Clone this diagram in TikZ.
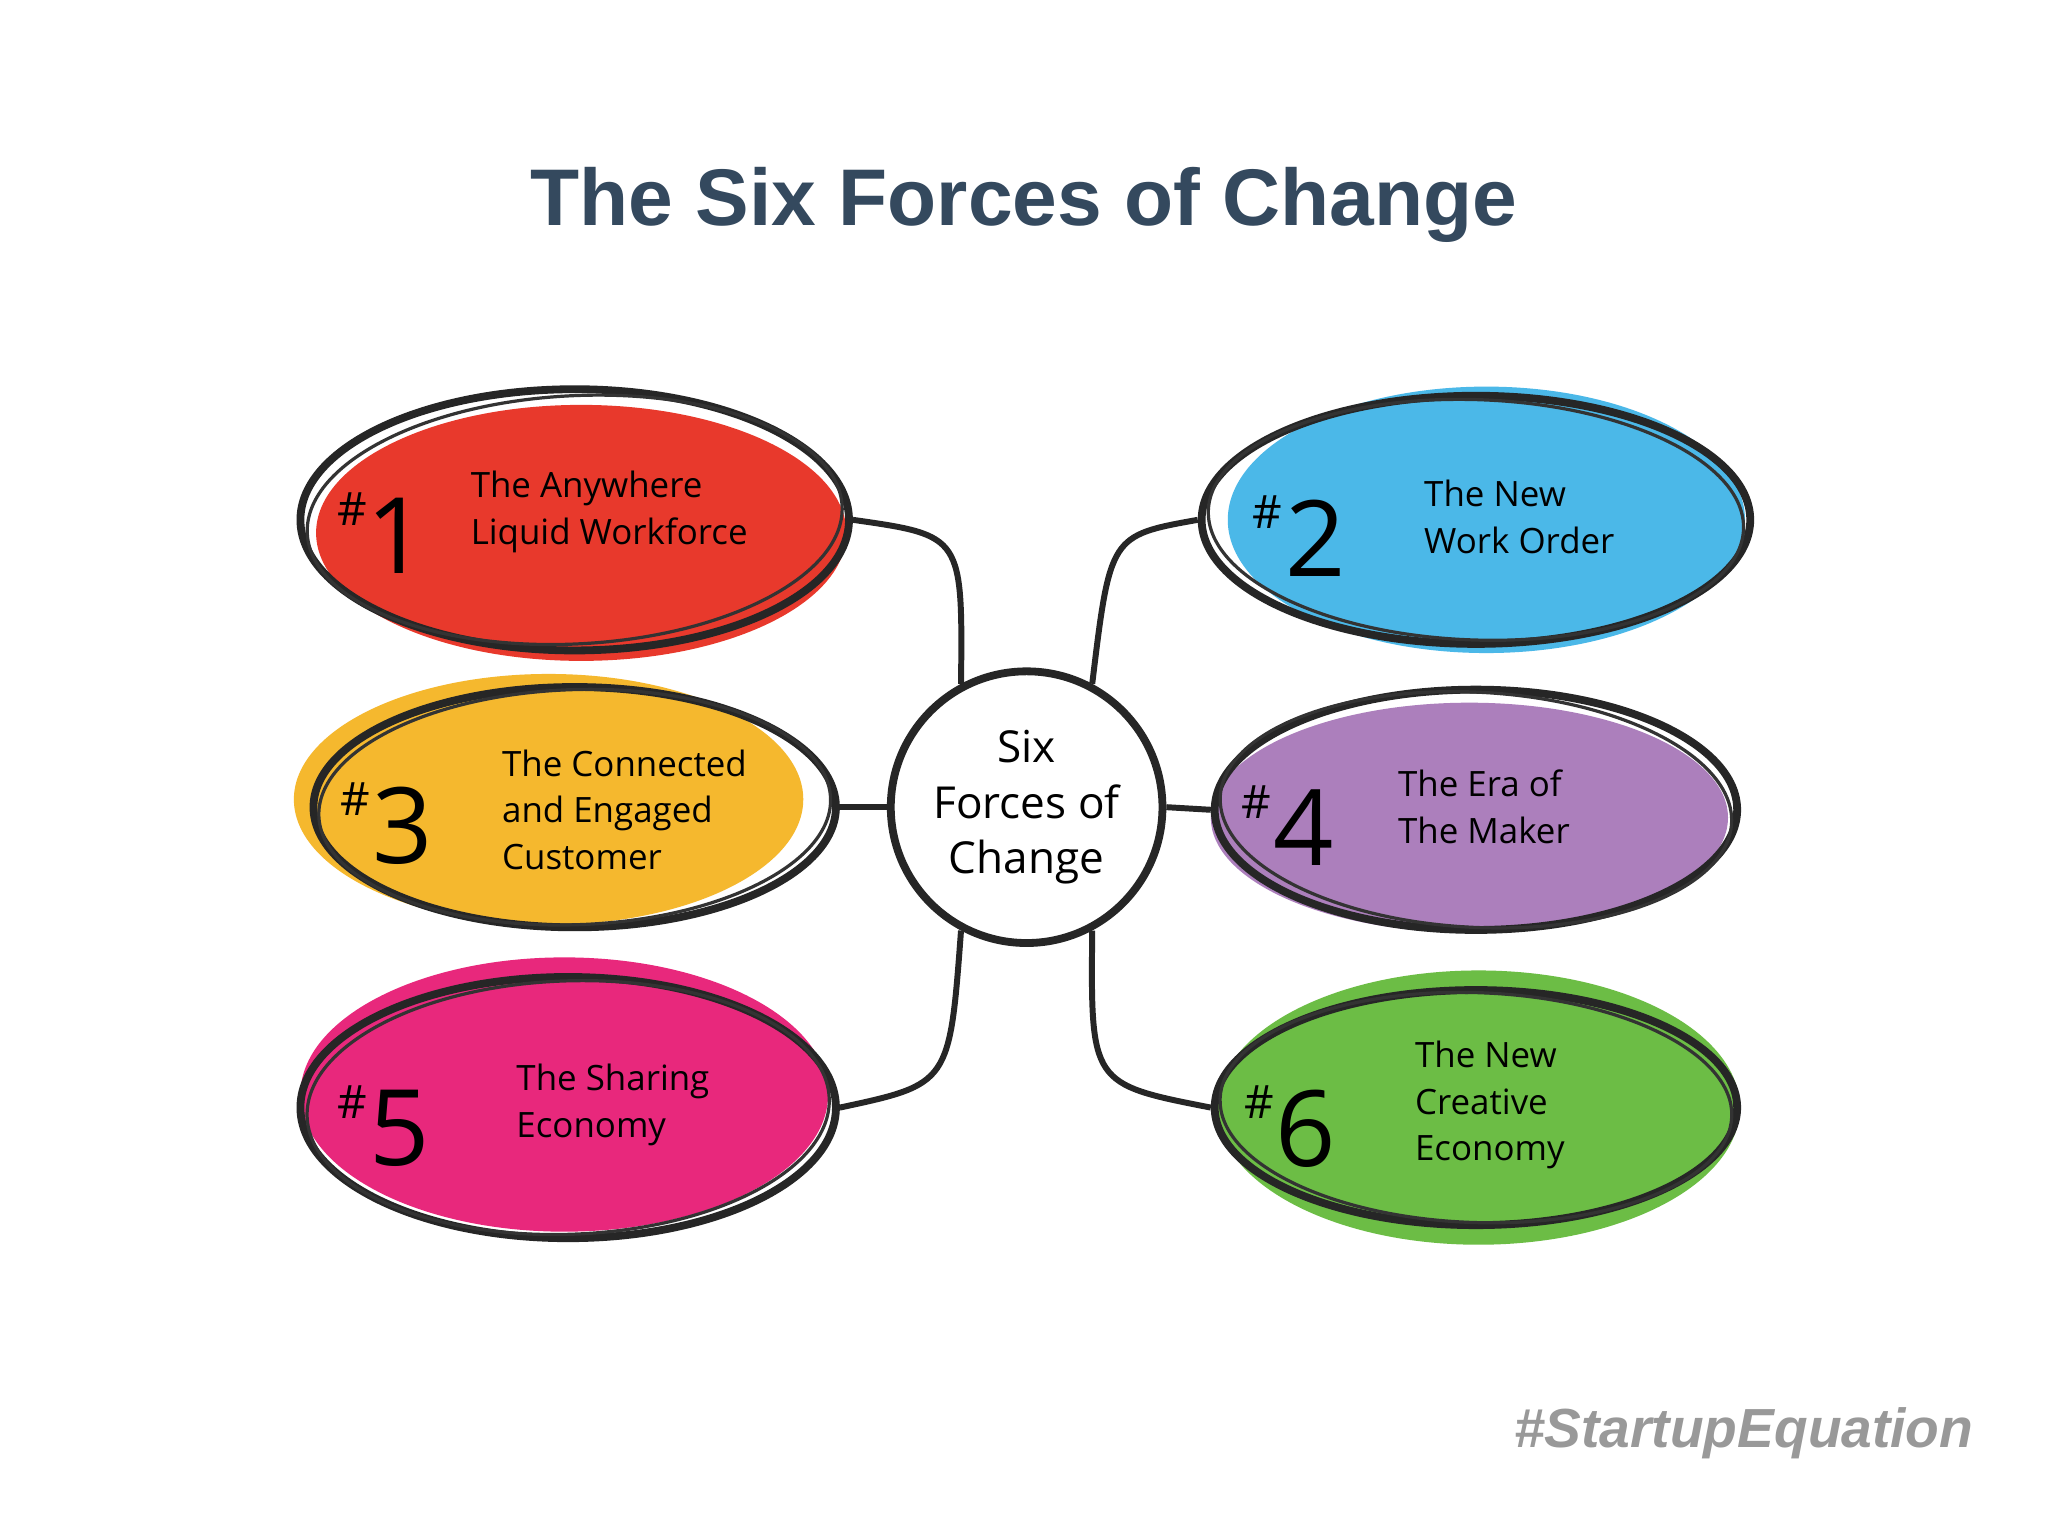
\documentclass[tikz,border=0pt]{standalone}
\usepackage{fontspec}
\setmainfont{Open Sans}
\newfontfamily\titlefont{Liberation Sans}
\usetikzlibrary{shapes.geometric}
\definecolor{cred}{HTML}{E8392C}
\definecolor{cblue}{HTML}{4BB8E8}
\definecolor{cyel}{HTML}{F5B82E}
\definecolor{cpur}{HTML}{AC7FBC}
\definecolor{cpink}{HTML}{E8287C}
\definecolor{cgreen}{HTML}{6CBD45}
\definecolor{ctitle}{HTML}{34495E}
\begin{document}
\begin{tikzpicture}[
  ring/.style={ellipse, draw=black!85, line width=1.7pt, inner sep=0pt},
  ring2/.style={draw=black!80, line width=0.7pt},
  conn/.style={draw=black!85, line width=1.3pt},
  lab/.style={align=left, font=\fontsize{7.6}{10.2}\selectfont, anchor=west},
  num/.style={font=\fontsize{23}{23}\selectfont},
  hash/.style={font=\fontsize{10}{10}\selectfont}
]
\useasboundingbox[fill=white] (0,0) rectangle (15.68,-11.76);
\node[font=\titlefont\bfseries\fontsize{17.5}{20}\selectfont, text=ctitle] (title) at (7.84,-1.57) {The Six Forces of Change};
% blobs
\fill[cred] (4.45,-4.08) ellipse (2.03 and 0.98);
\fill[cblue] (11.38,-3.98) ellipse (1.98 and 1.02);
\fill[cyel] (4.20,-6.12) ellipse (1.95 and 0.96);
\fill[cpur] (11.25,-6.26) ellipse (1.98 and 0.88);
\fill[cpink] (4.32,-8.38) ellipse (2.02 and 1.05);
\fill[cgreen] (11.32,-8.48) ellipse (2.00 and 1.05);
% rings
\node[ring, minimum width=4.2cm, minimum height=2.0cm] (e1) at (4.40,-3.98) {};
\node[ring, minimum width=4.2cm, minimum height=1.9cm] (e2) at (11.30,-3.98) {};
\node[ring, minimum width=4.0cm, minimum height=1.84cm] (e3) at (4.40,-6.18) {};
\node[ring, minimum width=4.0cm, minimum height=1.84cm] (e4) at (11.30,-6.20) {};
\node[ring, minimum width=4.1cm, minimum height=2.0cm] (e5) at (4.35,-8.48) {};
\node[ring, minimum width=4.0cm, minimum height=1.8cm] (e6) at (11.30,-8.48) {};
\draw[ring2, rotate around={3:(e1.center)}] (e1.center) ellipse (2.05 and 0.95);
\draw[ring2, rotate around={-2:(e2.center)}] (e2.center) ellipse (2.05 and 0.92);
\draw[ring2, rotate around={2:(e3.center)}] (e3.center) ellipse (1.96 and 0.9);
\draw[ring2, rotate around={-3:(e4.center)}] (e4.center) ellipse (1.96 and 0.9);
\draw[ring2, rotate around={2:(e5.center)}] (e5.center) ellipse (2.0 and 0.97);
\draw[ring2, rotate around={-2:(e6.center)}] (e6.center) ellipse (1.96 and 0.88);
% center
\node[circle, draw=black!85, line width=1.7pt, minimum size=2.08cm, inner sep=0pt, align=center, font=\fontsize{9.6}{12}\selectfont] (c) at (7.86,-6.18) {Six\\Forces of\\Change};
% connectors
\draw[conn] (c.118) .. controls (7.37,-4.1) .. (e1.east);
\draw[conn] (c.62) .. controls (8.50,-4.1) .. (e2.west);
\draw[conn] (c.west) -- (e3.east);
\draw[conn] (c.east) -- (e4.west);
\draw[conn] (c.242) .. controls (7.27,-8.3) .. (e5.east);
\draw[conn] (c.298) .. controls (8.35,-8.3) .. (e6.west);
% labels
\node[hash] (h1) at (2.70,-3.90) {\#}; \node[num] (n1) at (3.04,-4.10) {1};
\node[lab] (t1) at (3.48,-3.92) {The Anywhere\\Liquid Workforce};
\node[hash] (h2) at (9.70,-3.92) {\#}; \node[num] (n2) at (10.07,-4.12) {2};
\node[lab] (t2) at (10.78,-3.96) {The New\\Work Order};
\node[hash] (h3) at (2.72,-6.12) {\#}; \node[num] (n3) at (3.08,-6.32) {3};
\node[lab] (t3) at (3.72,-6.20) {The Connected\\and Engaged\\Customer};
\node[hash] (h4) at (9.62,-6.14) {\#}; \node[num] (n4) at (9.98,-6.34) {4};
\node[lab] (t4) at (10.58,-6.18) {The Era of\\The Maker};
\node[hash] (h5) at (2.70,-8.44) {\#}; \node[num] (n5) at (3.06,-8.64) {5};
\node[lab] (t5) at (3.83,-8.46) {The Sharing\\Economy};
\node[hash] (h6) at (9.64,-8.44) {\#}; \node[num] (n6) at (10.00,-8.64) {6};
\node[lab] (t6) at (10.71,-8.46) {The New\\Creative\\Economy};
\node[font=\titlefont\bfseries\itshape\fontsize{12}{14}\selectfont, text=black!40] (wm) at (13.35,-10.97) {\#StartupEquation};
\end{tikzpicture}
\end{document}
